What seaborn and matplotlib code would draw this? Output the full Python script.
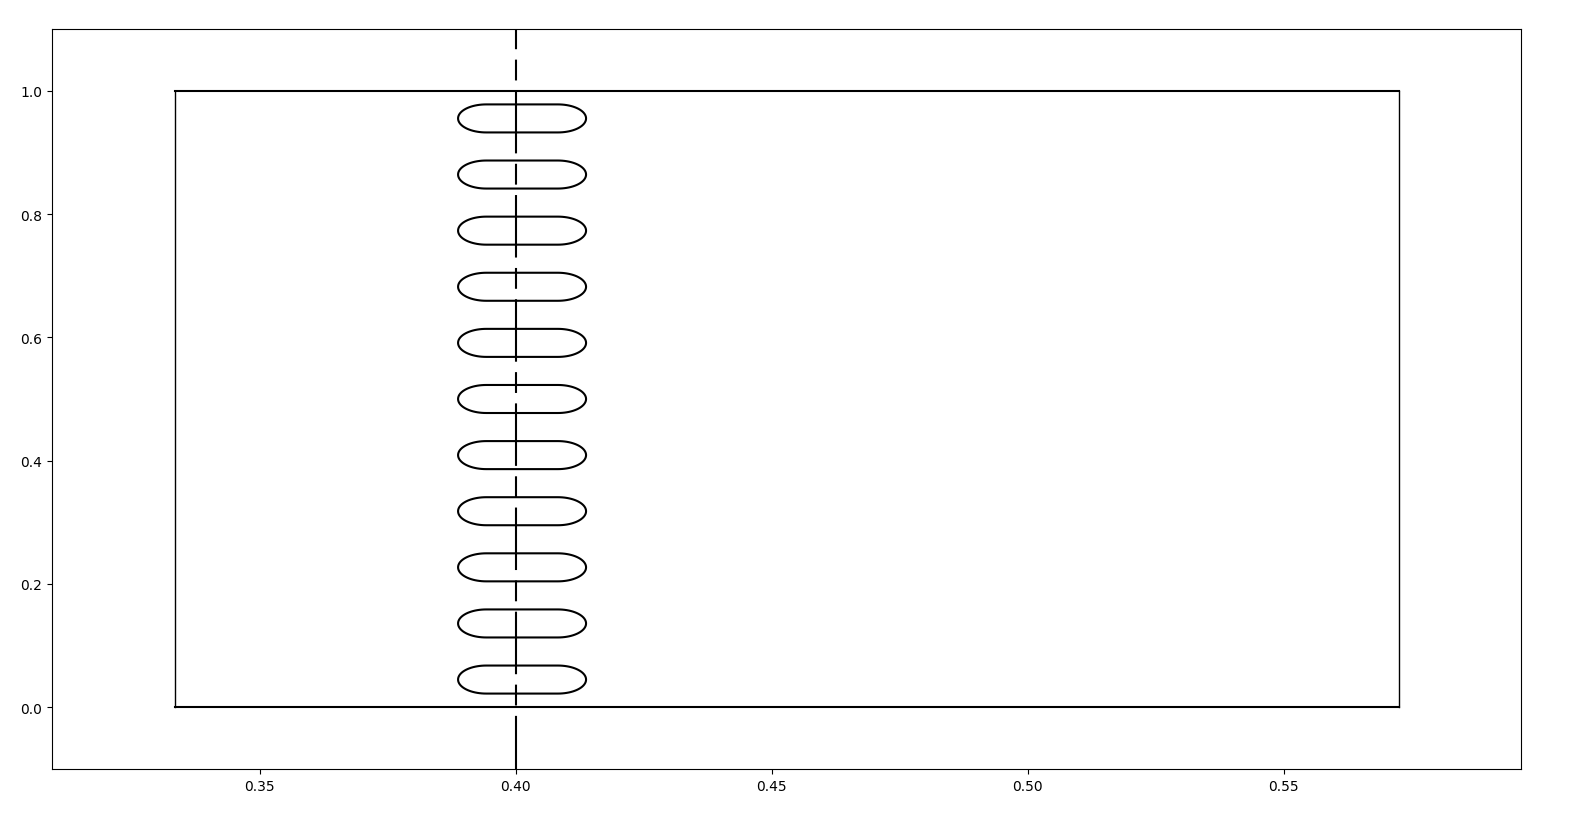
import numpy as np
import seaborn as sns
import matplotlib.pyplot as plt
import pandas as pd
from matplotlib.path import Path
from matplotlib.patches import PathPatch

# rectangle frame
rect_x = [1 / 3, 0.5725]
rect_y = [0.0, 1.0]

# vertical guide line
guide_x = 0.40
guide_y = [-0.1, 1.1]

# pill markers
pill_x = 0.4012
pill_y = [0.045, 0.136, 0.227, 0.318, 0.409, 0.5, 0.591, 0.682, 0.773, 0.864, 0.955]
pill_w = 0.025
pill_h = 0.5 / 11


def pill_path(xc, yc, w, h, a):
    # flat top/bottom with half-ellipse ends of x radius a
    t = np.linspace(0, np.pi, 40)
    ry = h / 2
    right = np.column_stack([xc + w / 2 - a + a * np.sin(t), yc + ry * np.cos(t)])
    left = np.column_stack([xc - w / 2 + a - a * np.sin(t), yc - ry * np.cos(t)])
    verts = np.vstack([right, left, right[:1]])
    return Path(verts, closed=True)


fig, ax = plt.subplots(figsize=(15.87, 8.29), dpi=100)
fig.subplots_adjust(left=0.0328, right=0.9584, bottom=0.0712, top=0.9638)

# top and bottom edges of the frame
for yv in rect_y:
    df = pd.DataFrame({"x": rect_x, "y": [yv, yv]})
    sns.lineplot(data=df, x="x", y="y", color="black", lw=1.5, sort=False, ax=ax)
# left and right edges
for xv in rect_x:
    df = pd.DataFrame({"x": [xv, xv], "y": rect_y})
    sns.lineplot(data=df, x="x", y="y", color="black", lw=1.0, sort=False,
                 orient="y", ax=ax)

# dashed vertical line
df = pd.DataFrame({"x": [guide_x, guide_x], "y": guide_y})
sns.lineplot(data=df, x="x", y="y", color="black", lw=1.5, sort=False,
             orient="y", ax=ax)
ax.lines[-1].set_linestyle((4.5, (30, 5, 10, 5)))

# rounded pills
for yc in pill_y:
    ax.add_patch(PathPatch(pill_path(pill_x, yc, pill_w, pill_h, 0.0055),
                           fill=False, ec="black", lw=1.5))

ax.set_xlim(0.3094, 0.5963)
ax.set_ylim(-0.1, 1.1)
ax.set_xlabel("")
ax.set_ylabel("")

plt.savefig("out.png")
